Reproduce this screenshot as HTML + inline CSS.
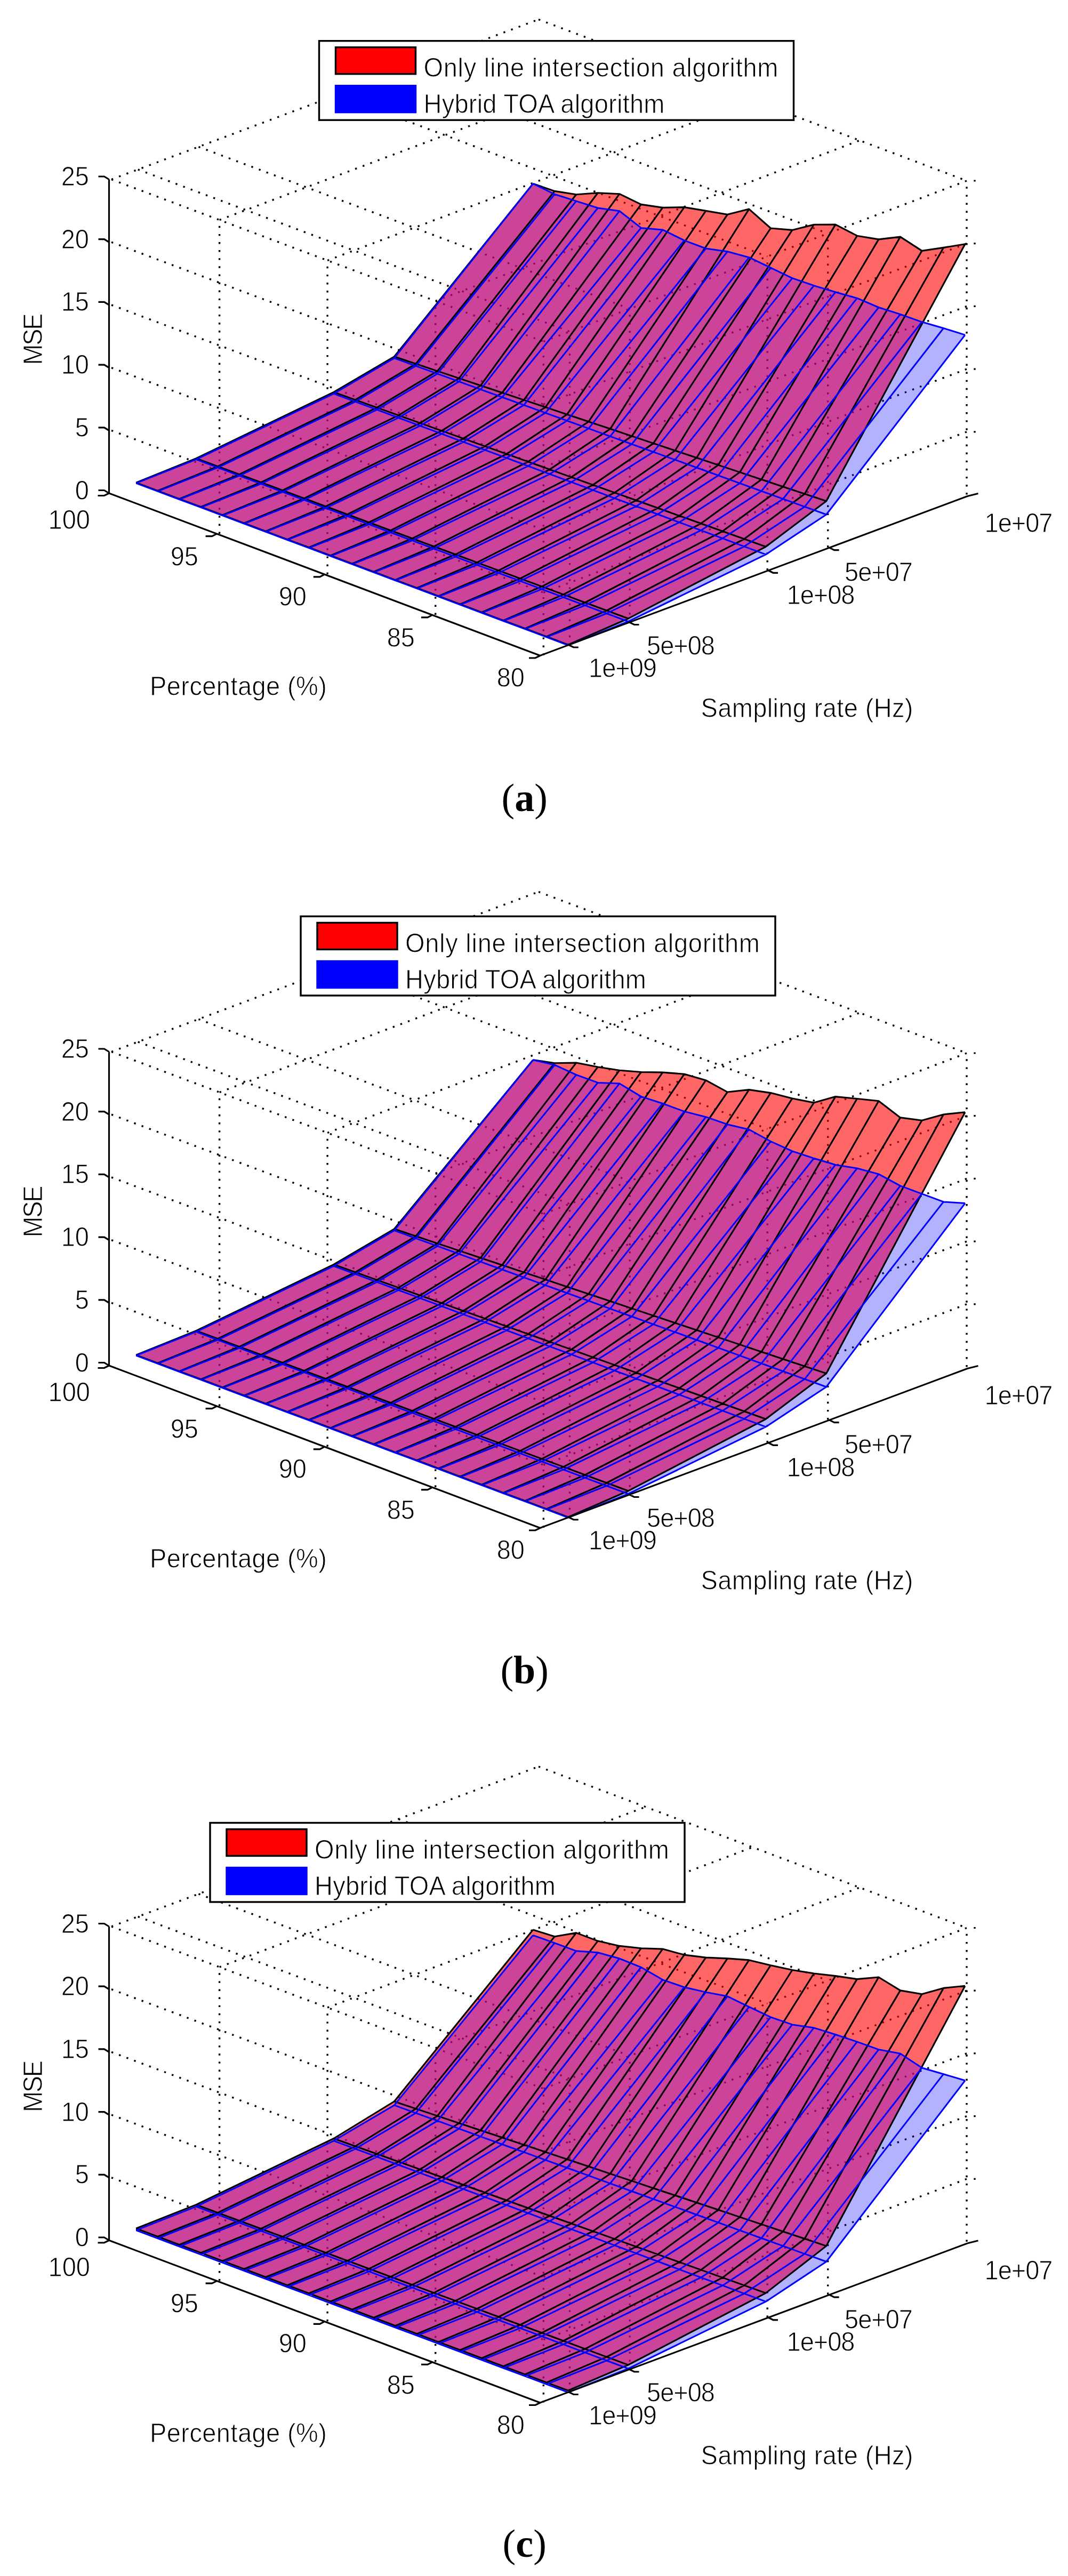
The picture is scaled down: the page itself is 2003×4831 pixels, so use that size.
<!DOCTYPE html>
<html lang="en"><head><meta charset="utf-8"><title>MSE versus percentage and sampling rate</title>
<style>
html,body{margin:0;padding:0;background:#fff}
svg{display:block}
.t text{font-family:"Liberation Sans",sans-serif;font-size:47px;fill:#000;stroke:#fff;stroke-width:0.9px}
.cap{font-family:"Liberation Serif","DejaVu Serif",serif;font-size:74px;fill:#000}
</style></head><body>
<svg width="2003" height="4831" viewBox="0 0 2003 4831">
<rect width="2003" height="4831" fill="#fff"/>
<g transform="translate(0,0)">
<g stroke="#000" stroke-width="3.4" stroke-dasharray="3.4 11.7" fill="none">
<path d="M209 336.5L1010 36.5M411.6 412.5L1210.8 112.1M614.1 488.5L1411.5 187.8M816.7 564.5L1612.2 263.4M1019.3 640.5L1813 339M258.7 317.9L1068.5 621.8M372.4 275.3L1181.2 579M632.7 177.8L1439.2 481M747.3 134.9L1552.7 437.9M1010 36.5L1813 339M209 807.3L1019.3 1111.3M209 689.6L1019.3 993.6M209 571.9L1019.3 875.9M209 454.2L1019.3 758.2M209 336.5L1019.3 640.5M411.6 1001L411.6 412.5M614.1 1077L614.1 488.5M816.7 1153L816.7 564.5M1019.3 1229L1019.3 640.5M1019.3 1111.3L1813 809.8M1019.3 993.6L1813 692.1M1019.3 875.9L1813 574.4M1019.3 758.2L1813 456.7M1019.3 640.5L1813 339M1068.5 1210.3L1068.5 621.8M1181.2 1167.5L1181.2 579M1439.2 1069.5L1439.2 481M1552.7 1026.4L1552.7 437.9M1813 927.5L1813 339"/>
</g>
<defs><clipPath id="cra"><polygon points="255.2,905.2 295.7,920.4 336.2,935.6 376.8,950.8 417.3,966 457.8,981.2 498.3,996.4 538.8,1011.6 579.3,1026.8 619.8,1042 660.4,1057.2 700.9,1072.4 741.4,1087.6 781.9,1102.8 822.4,1118 862.9,1133.2 903.4,1148.4 944,1163.6 984.5,1178.8 1025,1194 1065.5,1209.2 1178.2,1160 1436.2,1025.3 1549.7,939.8 1810,457.7 1769.5,464.4 1729,470.4 1688.5,444.1 1647.9,448.9 1607.4,442.2 1566.9,421.1 1526.4,421.2 1485.9,431.4 1445.4,428 1404.8,392.1 1364.3,402.3 1323.8,395.4 1283.3,388.6 1242.8,389.4 1202.3,383.4 1161.8,363.7 1121.2,361.7 1080.7,364.7 1040.2,358.4 999.7,344.4 739.4,668.8 625.9,735.4 367.9,859.6"/></clipPath>
<clipPath id="cna"><path clip-rule="evenodd" d="M0 0H2003V1640H0Z M255.2 905.2 295.7 920.4 336.2 935.6 376.8 950.8 417.3 966 457.8 981.2 498.3 996.4 538.8 1011.6 579.3 1026.8 619.8 1042 660.4 1057.2 700.9 1072.4 741.4 1087.6 781.9 1102.8 822.4 1118 862.9 1133.2 903.4 1148.4 944 1163.6 984.5 1178.8 1025 1194 1065.5 1209.2 1178.2 1160 1436.2 1025.3 1549.7 939.8 1810 457.7 1769.5 464.4 1729 470.4 1688.5 444.1 1647.9 448.9 1607.4 442.2 1566.9 421.1 1526.4 421.2 1485.9 431.4 1445.4 428 1404.8 392.1 1364.3 402.3 1323.8 395.4 1283.3 388.6 1242.8 389.4 1202.3 383.4 1161.8 363.7 1121.2 361.7 1080.7 364.7 1040.2 358.4 999.7 344.4 739.4 668.8 625.9 735.4 367.9 859.6 Z"/></clipPath></defs>
<polygon points="255.2,905.2 295.7,920.4 336.2,935.6 376.8,950.8 417.3,966 457.8,981.2 498.3,996.4 538.8,1011.6 579.3,1026.8 619.8,1042 660.4,1057.2 700.9,1072.4 741.4,1087.6 781.9,1102.8 822.4,1118 862.9,1133.2 903.4,1148.4 944,1163.6 984.5,1178.8 1025,1194 1065.5,1209.2 1178.2,1160 1436.2,1025.3 1549.7,939.8 1810,457.7 1769.5,464.4 1729,470.4 1688.5,444.1 1647.9,448.9 1607.4,442.2 1566.9,421.1 1526.4,421.2 1485.9,431.4 1445.4,428 1404.8,392.1 1364.3,402.3 1323.8,395.4 1283.3,388.6 1242.8,389.4 1202.3,383.4 1161.8,363.7 1121.2,361.7 1080.7,364.7 1040.2,358.4 999.7,344.4 739.4,668.8 625.9,735.4 367.9,859.6" fill="#f00" fill-opacity="0.6"/>
<polygon points="255.2,906.1 295.7,921.3 336.2,936.5 376.8,951.7 417.3,966.9 457.8,982.1 498.3,997.3 538.8,1012.5 579.3,1027.7 619.8,1042.9 660.4,1058.1 700.9,1073.3 741.4,1088.5 781.9,1103.7 822.4,1118.9 862.9,1134.1 903.4,1149.3 944,1164.5 984.5,1179.7 1025,1194.9 1065.5,1210.1 1178.2,1165.7 1436.2,1039.9 1549.7,965 1810,628.1 1769.5,615.5 1729,603.8 1688.5,589.4 1647.9,576.5 1607.4,559.2 1566.9,547.8 1526.4,535.6 1485.9,521.6 1445.4,502.2 1404.8,482.7 1364.3,471.8 1323.8,466 1283.3,450.8 1242.8,430.9 1202.3,427.4 1161.8,395.8 1121.2,390 1080.7,377.1 1040.2,364.3 999.7,344.4 739.4,671.6 625.9,738.3 367.9,861.7" fill="#8011e6" fill-opacity="0.4" clip-path="url(#cra)"/>
<polygon points="255.2,906.1 295.7,921.3 336.2,936.5 376.8,951.7 417.3,966.9 457.8,982.1 498.3,997.3 538.8,1012.5 579.3,1027.7 619.8,1042.9 660.4,1058.1 700.9,1073.3 741.4,1088.5 781.9,1103.7 822.4,1118.9 862.9,1134.1 903.4,1149.3 944,1164.5 984.5,1179.7 1025,1194.9 1065.5,1210.1 1178.2,1165.7 1436.2,1039.9 1549.7,965 1810,628.1 1769.5,615.5 1729,603.8 1688.5,589.4 1647.9,576.5 1607.4,559.2 1566.9,547.8 1526.4,535.6 1485.9,521.6 1445.4,502.2 1404.8,482.7 1364.3,471.8 1323.8,466 1283.3,450.8 1242.8,430.9 1202.3,427.4 1161.8,395.8 1121.2,390 1080.7,377.1 1040.2,364.3 999.7,344.4 739.4,671.6 625.9,738.3 367.9,861.7" fill="#00f" fill-opacity="0.3" clip-path="url(#cna)"/>
<path d="M255.2 905.2L367.9 859.6L625.9 735.4L739.4 668.8L999.7 344.4M295.7 920.4L408.4 874.6L666.4 749.9L779.9 682.3L1040.2 358.4M336.2 935.6L448.9 889.6L706.9 764.4L820.4 695.9L1080.7 364.7M376.8 950.8L489.5 904.6L747.4 778.9L860.9 709.4L1121.2 361.7M417.3 966L530 919.6L787.9 793.4L901.4 723L1161.8 363.7M457.8 981.2L570.5 934.7L828.4 807.9L941.9 736.5L1202.3 383.4M498.3 996.4L611 949.7L869 822.4L982.5 750.1L1242.8 389.4M538.8 1011.6L651.5 964.7L909.5 836.9L1023 763.6L1283.3 388.6M579.3 1026.8L692 979.7L950 851.4L1063.5 777.2L1323.8 395.4M619.8 1042L732.5 994.8L990.5 865.9L1104 790.7L1364.3 402.3M660.4 1057.2L773.1 1009.8L1031 880.4L1144.5 804.3L1404.8 392.1M700.9 1072.4L813.6 1024.8L1071.5 894.9L1185 817.9L1445.4 428M741.4 1087.6L854.1 1039.8L1112 909.4L1225.5 831.4L1485.9 431.4M781.9 1102.8L894.6 1054.9L1152.6 923.9L1266.1 845L1526.4 421.2M822.4 1118L935.1 1069.9L1193.1 938.3L1306.6 858.5L1566.9 421.1M862.9 1133.2L975.6 1084.9L1233.6 952.8L1347.1 872.1L1607.4 442.2M903.4 1148.4L1016.2 1099.9L1274.1 967.3L1387.6 885.6L1647.9 448.9M944 1163.6L1056.7 1114.9L1314.6 981.8L1428.1 899.2L1688.5 444.1M984.5 1178.8L1097.2 1130L1355.1 996.3L1468.6 912.7L1729 470.4M1025 1194L1137.7 1145L1395.7 1010.8L1509.2 926.3L1769.5 464.4M1065.5 1209.2L1178.2 1160L1436.2 1025.3L1549.7 939.8L1810 457.7M255.2 905.2L295.7 920.4L336.2 935.6L376.8 950.8L417.3 966L457.8 981.2L498.3 996.4L538.8 1011.6L579.3 1026.8L619.8 1042L660.4 1057.2L700.9 1072.4L741.4 1087.6L781.9 1102.8L822.4 1118L862.9 1133.2L903.4 1148.4L944 1163.6L984.5 1178.8L1025 1194L1065.5 1209.2M367.9 859.6L408.4 874.6L448.9 889.6L489.5 904.6L530 919.6L570.5 934.7L611 949.7L651.5 964.7L692 979.7L732.5 994.8L773.1 1009.8L813.6 1024.8L854.1 1039.8L894.6 1054.9L935.1 1069.9L975.6 1084.9L1016.2 1099.9L1056.7 1114.9L1097.2 1130L1137.7 1145L1178.2 1160M625.9 735.4L666.4 749.9L706.9 764.4L747.4 778.9L787.9 793.4L828.4 807.9L869 822.4L909.5 836.9L950 851.4L990.5 865.9L1031 880.4L1071.5 894.9L1112 909.4L1152.6 923.9L1193.1 938.3L1233.6 952.8L1274.1 967.3L1314.6 981.8L1355.1 996.3L1395.7 1010.8L1436.2 1025.3M739.4 668.8L779.9 682.3L820.4 695.9L860.9 709.4L901.4 723L941.9 736.5L982.5 750.1L1023 763.6L1063.5 777.2L1104 790.7L1144.5 804.3L1185 817.9L1225.5 831.4L1266.1 845L1306.6 858.5L1347.1 872.1L1387.6 885.6L1428.1 899.2L1468.6 912.7L1509.2 926.3L1549.7 939.8M999.7 344.4L1040.2 358.4L1080.7 364.7L1121.2 361.7L1161.8 363.7L1202.3 383.4L1242.8 389.4L1283.3 388.6L1323.8 395.4L1364.3 402.3L1404.8 392.1L1445.4 428L1485.9 431.4L1526.4 421.2L1566.9 421.1L1607.4 442.2L1647.9 448.9L1688.5 444.1L1729 470.4L1769.5 464.4L1810 457.7" fill="none" stroke="#000" stroke-width="3.1" stroke-linejoin="round"/>
<path d="M255.2 906.1L367.9 861.7L625.9 738.3L739.4 671.6L999.7 344.4M295.7 921.3L408.4 876.9L666.4 753.3L779.9 686.3L1040.2 364.3M336.2 936.5L448.9 892.1L706.9 768.4L820.4 700.9L1080.7 377.1M376.8 951.7L489.5 907.3L747.4 783.5L860.9 715.6L1121.2 390M417.3 966.9L530 922.5L787.9 798.6L901.4 730.3L1161.8 395.8M457.8 982.1L570.5 937.7L828.4 813.7L941.9 745L1202.3 427.4M498.3 997.3L611 952.9L869 828.8L982.5 759.6L1242.8 430.9M538.8 1012.5L651.5 968.1L909.5 843.8L1023 774.3L1283.3 450.8M579.3 1027.7L692 983.3L950 858.9L1063.5 789L1323.8 466M619.8 1042.9L732.5 998.5L990.5 874L1104 803.6L1364.3 471.8M660.4 1058.1L773.1 1013.7L1031 889.1L1144.5 818.3L1404.8 482.7M700.9 1073.3L813.6 1028.9L1071.5 904.2L1185 833L1445.4 502.2M741.4 1088.5L854.1 1044.1L1112 919.2L1225.5 847.6L1485.9 521.6M781.9 1103.7L894.6 1059.3L1152.6 934.3L1266.1 862.3L1526.4 535.6M822.4 1118.9L935.1 1074.5L1193.1 949.4L1306.6 877L1566.9 547.8M862.9 1134.1L975.6 1089.7L1233.6 964.5L1347.1 891.7L1607.4 559.2M903.4 1149.3L1016.2 1104.9L1274.1 979.6L1387.6 906.3L1647.9 576.5M944 1164.5L1056.7 1120.1L1314.6 994.7L1428.1 921L1688.5 589.4M984.5 1179.7L1097.2 1135.3L1355.1 1009.7L1468.6 935.7L1729 603.8M1025 1194.9L1137.7 1150.5L1395.7 1024.8L1509.2 950.3L1769.5 615.5M1065.5 1210.1L1178.2 1165.7L1436.2 1039.9L1549.7 965L1810 628.1M255.2 906.1L295.7 921.3L336.2 936.5L376.8 951.7L417.3 966.9L457.8 982.1L498.3 997.3L538.8 1012.5L579.3 1027.7L619.8 1042.9L660.4 1058.1L700.9 1073.3L741.4 1088.5L781.9 1103.7L822.4 1118.9L862.9 1134.1L903.4 1149.3L944 1164.5L984.5 1179.7L1025 1194.9L1065.5 1210.1M367.9 861.7L408.4 876.9L448.9 892.1L489.5 907.3L530 922.5L570.5 937.7L611 952.9L651.5 968.1L692 983.3L732.5 998.5L773.1 1013.7L813.6 1028.9L854.1 1044.1L894.6 1059.3L935.1 1074.5L975.6 1089.7L1016.2 1104.9L1056.7 1120.1L1097.2 1135.3L1137.7 1150.5L1178.2 1165.7M625.9 738.3L666.4 753.3L706.9 768.4L747.4 783.5L787.9 798.6L828.4 813.7L869 828.8L909.5 843.8L950 858.9L990.5 874L1031 889.1L1071.5 904.2L1112 919.2L1152.6 934.3L1193.1 949.4L1233.6 964.5L1274.1 979.6L1314.6 994.7L1355.1 1009.7L1395.7 1024.8L1436.2 1039.9M739.4 671.6L779.9 686.3L820.4 700.9L860.9 715.6L901.4 730.3L941.9 745L982.5 759.6L1023 774.3L1063.5 789L1104 803.6L1144.5 818.3L1185 833L1225.5 847.6L1266.1 862.3L1306.6 877L1347.1 891.7L1387.6 906.3L1428.1 921L1468.6 935.7L1509.2 950.3L1549.7 965M999.7 344.4L1040.2 364.3L1080.7 377.1L1121.2 390L1161.8 395.8L1202.3 427.4L1242.8 430.9L1283.3 450.8L1323.8 466L1364.3 471.8L1404.8 482.7L1445.4 502.2L1485.9 521.6L1526.4 535.6L1566.9 547.8L1607.4 559.2L1647.9 576.5L1688.5 589.4L1729 603.8L1769.5 615.5L1810 628.1" fill="none" stroke="#00f" stroke-width="3" stroke-linejoin="round"/>
<path d="M204.5 926.6L204.5 336.5M204.5 925L1013 1229.5L1814.5 930.5M204.5 925L195.5 919.5H184.5M204.5 807.3L195.5 801.8H184.5M1826.3 809.8h3.4M204.5 689.6L195.5 684.1H184.5M1826.3 692.1h3.4M204.5 571.9L195.5 566.4H184.5M1826.3 574.4h3.4M204.5 454.2L195.5 448.7H184.5M1826.3 456.7h3.4M204.5 336.5L195.5 331H184.5M1826.3 339h3.4M204.5 925L195.5 929.5H183.5M406.6 1001.1L397.6 1005.6H385.6M608.8 1077.2L599.8 1081.8H587.8M810.9 1153.4L801.9 1157.9H789.9M1013 1229.5L1004 1234H992M1066.7 1209.5L1075.7 1214H1084.7M1180.5 1167L1189.5 1171.5H1198.5M1441 1069.8L1450 1074.3H1459M1555.6 1027.1L1564.6 1031.6H1573.6M1814.5 930.5L1834.5 925.5" fill="none" stroke="#000" stroke-width="3.2"/>
<g class="t">
<text transform="translate(167,936.5) scale(1,1.08)" text-anchor="end">0</text>
<text transform="translate(167,818.8) scale(1,1.08)" text-anchor="end">5</text>
<text transform="translate(167,701.1) scale(1,1.08)" text-anchor="end">10</text>
<text transform="translate(167,583.4) scale(1,1.08)" text-anchor="end">15</text>
<text transform="translate(167,465.7) scale(1,1.08)" text-anchor="end">20</text>
<text transform="translate(167,348) scale(1,1.08)" text-anchor="end">25</text>
<text transform="translate(169,992) scale(1,1.08)" text-anchor="end">100</text>
<text transform="translate(372,1060.5) scale(1,1.08)" text-anchor="end">95</text>
<text transform="translate(575,1135.5) scale(1,1.08)" text-anchor="end">90</text>
<text transform="translate(778,1213) scale(1,1.08)" text-anchor="end">85</text>
<text transform="translate(984,1288) scale(1,1.08)" text-anchor="end">80</text>
<text transform="translate(1104,1270) scale(1,1.08)" textLength="128" lengthAdjust="spacing">1e+09</text>
<text transform="translate(1213,1227.5) scale(1,1.08)" textLength="128" lengthAdjust="spacing">5e+08</text>
<text transform="translate(1475.5,1132.5) scale(1,1.08)" textLength="128" lengthAdjust="spacing">1e+08</text>
<text transform="translate(1584,1090) scale(1,1.08)" textLength="128" lengthAdjust="spacing">5e+07</text>
<text transform="translate(1846.5,998) scale(1,1.08)" textLength="128" lengthAdjust="spacing">1e+07</text>
<text transform="translate(281,1303.5) scale(1,1.08)" textLength="332" lengthAdjust="spacing">Percentage (%)</text>
<text transform="translate(1314.5,1345) scale(1,1.08)" textLength="398" lengthAdjust="spacing">Sampling rate (Hz)</text>
<text transform="translate(78.5,636) rotate(-90) scale(1,1.08)" text-anchor="middle" textLength="97" lengthAdjust="spacing">MSE</text>
</g>
<text class="cap" x="983.7" y="1521" text-anchor="middle">(<tspan font-weight="bold">a</tspan>)</text>
<rect x="598.5" y="76.7" width="890" height="148.5" fill="#fff" stroke="#000" stroke-width="3.4"/>
<rect x="629.5" y="88.7" width="150" height="50" fill="#f00" stroke="#000" stroke-width="3.4"/>
<rect x="629.5" y="160.7" width="150" height="50" fill="#00f" stroke="#00f" stroke-width="3.4"/>
<g class="t">
<text transform="translate(794.5,143.7) scale(1,1.08)" textLength="665" lengthAdjust="spacing">Only line intersection algorithm</text>
<text transform="translate(794.5,211.7) scale(1,1.08)" textLength="452" lengthAdjust="spacing">Hybrid TOA algorithm</text>
</g>
</g>
<g transform="translate(0,1636)">
<g stroke="#000" stroke-width="3.4" stroke-dasharray="3.4 11.7" fill="none">
<path d="M209 336.5L1010 36.5M411.6 412.5L1210.8 112.1M614.1 488.5L1411.5 187.8M816.7 564.5L1612.2 263.4M1019.3 640.5L1813 339M258.7 317.9L1068.5 621.8M372.4 275.3L1181.2 579M632.7 177.8L1439.2 481M747.3 134.9L1552.7 437.9M1010 36.5L1813 339M209 807.3L1019.3 1111.3M209 689.6L1019.3 993.6M209 571.9L1019.3 875.9M209 454.2L1019.3 758.2M209 336.5L1019.3 640.5M411.6 1001L411.6 412.5M614.1 1077L614.1 488.5M816.7 1153L816.7 564.5M1019.3 1229L1019.3 640.5M1019.3 1111.3L1813 809.8M1019.3 993.6L1813 692.1M1019.3 875.9L1813 574.4M1019.3 758.2L1813 456.7M1019.3 640.5L1813 339M1068.5 1210.3L1068.5 621.8M1181.2 1167.5L1181.2 579M1439.2 1069.5L1439.2 481M1552.7 1026.4L1552.7 437.9M1813 927.5L1813 339"/>
</g>
<defs><clipPath id="crb"><polygon points="255.2,905.2 295.7,920.4 336.2,935.6 376.8,950.8 417.3,966 457.8,981.2 498.3,996.4 538.8,1011.6 579.3,1026.8 619.8,1042 660.4,1057.2 700.9,1072.4 741.4,1087.6 781.9,1102.8 822.4,1118 862.9,1133.2 903.4,1148.4 944,1163.6 984.5,1178.8 1025,1194 1065.5,1209.2 1178.2,1160 1436.2,1025.3 1549.7,939.8 1810,449.7 1769.5,454 1729,465.2 1688.5,459.9 1647.9,428.7 1607.4,424.5 1566.9,420.6 1526.4,432 1485.9,423.9 1445.4,413.6 1404.8,407.6 1364.3,412 1323.8,389.9 1283.3,378.3 1242.8,375.1 1202.3,374.5 1161.8,371.3 1121.2,365 1080.7,357.1 1040.2,357.7 999.7,351.7 739.4,668.8 625.9,735.4 367.9,859.6"/></clipPath>
<clipPath id="cnb"><path clip-rule="evenodd" d="M0 0H2003V1640H0Z M255.2 905.2 295.7 920.4 336.2 935.6 376.8 950.8 417.3 966 457.8 981.2 498.3 996.4 538.8 1011.6 579.3 1026.8 619.8 1042 660.4 1057.2 700.9 1072.4 741.4 1087.6 781.9 1102.8 822.4 1118 862.9 1133.2 903.4 1148.4 944 1163.6 984.5 1178.8 1025 1194 1065.5 1209.2 1178.2 1160 1436.2 1025.3 1549.7 939.8 1810 449.7 1769.5 454 1729 465.2 1688.5 459.9 1647.9 428.7 1607.4 424.5 1566.9 420.6 1526.4 432 1485.9 423.9 1445.4 413.6 1404.8 407.6 1364.3 412 1323.8 389.9 1283.3 378.3 1242.8 375.1 1202.3 374.5 1161.8 371.3 1121.2 365 1080.7 357.1 1040.2 357.7 999.7 351.7 739.4 668.8 625.9 735.4 367.9 859.6 Z"/></clipPath></defs>
<polygon points="255.2,905.2 295.7,920.4 336.2,935.6 376.8,950.8 417.3,966 457.8,981.2 498.3,996.4 538.8,1011.6 579.3,1026.8 619.8,1042 660.4,1057.2 700.9,1072.4 741.4,1087.6 781.9,1102.8 822.4,1118 862.9,1133.2 903.4,1148.4 944,1163.6 984.5,1178.8 1025,1194 1065.5,1209.2 1178.2,1160 1436.2,1025.3 1549.7,939.8 1810,449.7 1769.5,454 1729,465.2 1688.5,459.9 1647.9,428.7 1607.4,424.5 1566.9,420.6 1526.4,432 1485.9,423.9 1445.4,413.6 1404.8,407.6 1364.3,412 1323.8,389.9 1283.3,378.3 1242.8,375.1 1202.3,374.5 1161.8,371.3 1121.2,365 1080.7,357.1 1040.2,357.7 999.7,351.7 739.4,668.8 625.9,735.4 367.9,859.6" fill="#f00" fill-opacity="0.6"/>
<polygon points="255.2,906.1 295.7,921.3 336.2,936.5 376.8,951.7 417.3,966.9 457.8,982.1 498.3,997.3 538.8,1012.5 579.3,1027.7 619.8,1042.9 660.4,1058.1 700.9,1073.3 741.4,1088.5 781.9,1103.7 822.4,1118.9 862.9,1134.1 903.4,1149.3 944,1164.5 984.5,1179.7 1025,1194.9 1065.5,1210.1 1178.2,1165.7 1436.2,1039.9 1549.7,965 1810,620.6 1769.5,617.9 1729,602.9 1688.5,587.9 1647.9,565.9 1607.4,555 1566.9,548.5 1526.4,536.3 1485.9,522.8 1445.4,504.5 1404.8,482.2 1364.3,472.7 1323.8,458.7 1283.3,448.4 1242.8,433.5 1202.3,420.4 1161.8,396 1121.2,394.4 1080.7,379.7 1040.2,361.2 999.7,351.7 739.4,671.6 625.9,738.3 367.9,861.7" fill="#8011e6" fill-opacity="0.4" clip-path="url(#crb)"/>
<polygon points="255.2,906.1 295.7,921.3 336.2,936.5 376.8,951.7 417.3,966.9 457.8,982.1 498.3,997.3 538.8,1012.5 579.3,1027.7 619.8,1042.9 660.4,1058.1 700.9,1073.3 741.4,1088.5 781.9,1103.7 822.4,1118.9 862.9,1134.1 903.4,1149.3 944,1164.5 984.5,1179.7 1025,1194.9 1065.5,1210.1 1178.2,1165.7 1436.2,1039.9 1549.7,965 1810,620.6 1769.5,617.9 1729,602.9 1688.5,587.9 1647.9,565.9 1607.4,555 1566.9,548.5 1526.4,536.3 1485.9,522.8 1445.4,504.5 1404.8,482.2 1364.3,472.7 1323.8,458.7 1283.3,448.4 1242.8,433.5 1202.3,420.4 1161.8,396 1121.2,394.4 1080.7,379.7 1040.2,361.2 999.7,351.7 739.4,671.6 625.9,738.3 367.9,861.7" fill="#00f" fill-opacity="0.3" clip-path="url(#cnb)"/>
<path d="M255.2 905.2L367.9 859.6L625.9 735.4L739.4 668.8L999.7 351.7M295.7 920.4L408.4 874.6L666.4 749.9L779.9 682.3L1040.2 357.7M336.2 935.6L448.9 889.6L706.9 764.4L820.4 695.9L1080.7 357.1M376.8 950.8L489.5 904.6L747.4 778.9L860.9 709.4L1121.2 365M417.3 966L530 919.6L787.9 793.4L901.4 723L1161.8 371.3M457.8 981.2L570.5 934.7L828.4 807.9L941.9 736.5L1202.3 374.5M498.3 996.4L611 949.7L869 822.4L982.5 750.1L1242.8 375.1M538.8 1011.6L651.5 964.7L909.5 836.9L1023 763.6L1283.3 378.3M579.3 1026.8L692 979.7L950 851.4L1063.5 777.2L1323.8 389.9M619.8 1042L732.5 994.8L990.5 865.9L1104 790.7L1364.3 412M660.4 1057.2L773.1 1009.8L1031 880.4L1144.5 804.3L1404.8 407.6M700.9 1072.4L813.6 1024.8L1071.5 894.9L1185 817.9L1445.4 413.6M741.4 1087.6L854.1 1039.8L1112 909.4L1225.5 831.4L1485.9 423.9M781.9 1102.8L894.6 1054.9L1152.6 923.9L1266.1 845L1526.4 432M822.4 1118L935.1 1069.9L1193.1 938.3L1306.6 858.5L1566.9 420.6M862.9 1133.2L975.6 1084.9L1233.6 952.8L1347.1 872.1L1607.4 424.5M903.4 1148.4L1016.2 1099.9L1274.1 967.3L1387.6 885.6L1647.9 428.7M944 1163.6L1056.7 1114.9L1314.6 981.8L1428.1 899.2L1688.5 459.9M984.5 1178.8L1097.2 1130L1355.1 996.3L1468.6 912.7L1729 465.2M1025 1194L1137.7 1145L1395.7 1010.8L1509.2 926.3L1769.5 454M1065.5 1209.2L1178.2 1160L1436.2 1025.3L1549.7 939.8L1810 449.7M255.2 905.2L295.7 920.4L336.2 935.6L376.8 950.8L417.3 966L457.8 981.2L498.3 996.4L538.8 1011.6L579.3 1026.8L619.8 1042L660.4 1057.2L700.9 1072.4L741.4 1087.6L781.9 1102.8L822.4 1118L862.9 1133.2L903.4 1148.4L944 1163.6L984.5 1178.8L1025 1194L1065.5 1209.2M367.9 859.6L408.4 874.6L448.9 889.6L489.5 904.6L530 919.6L570.5 934.7L611 949.7L651.5 964.7L692 979.7L732.5 994.8L773.1 1009.8L813.6 1024.8L854.1 1039.8L894.6 1054.9L935.1 1069.9L975.6 1084.9L1016.2 1099.9L1056.7 1114.9L1097.2 1130L1137.7 1145L1178.2 1160M625.9 735.4L666.4 749.9L706.9 764.4L747.4 778.9L787.9 793.4L828.4 807.9L869 822.4L909.5 836.9L950 851.4L990.5 865.9L1031 880.4L1071.5 894.9L1112 909.4L1152.6 923.9L1193.1 938.3L1233.6 952.8L1274.1 967.3L1314.6 981.8L1355.1 996.3L1395.7 1010.8L1436.2 1025.3M739.4 668.8L779.9 682.3L820.4 695.9L860.9 709.4L901.4 723L941.9 736.5L982.5 750.1L1023 763.6L1063.5 777.2L1104 790.7L1144.5 804.3L1185 817.9L1225.5 831.4L1266.1 845L1306.6 858.5L1347.1 872.1L1387.6 885.6L1428.1 899.2L1468.6 912.7L1509.2 926.3L1549.7 939.8M999.7 351.7L1040.2 357.7L1080.7 357.1L1121.2 365L1161.8 371.3L1202.3 374.5L1242.8 375.1L1283.3 378.3L1323.8 389.9L1364.3 412L1404.8 407.6L1445.4 413.6L1485.9 423.9L1526.4 432L1566.9 420.6L1607.4 424.5L1647.9 428.7L1688.5 459.9L1729 465.2L1769.5 454L1810 449.7" fill="none" stroke="#000" stroke-width="3.1" stroke-linejoin="round"/>
<path d="M255.2 906.1L367.9 861.7L625.9 738.3L739.4 671.6L999.7 351.7M295.7 921.3L408.4 876.9L666.4 753.3L779.9 686.3L1040.2 361.2M336.2 936.5L448.9 892.1L706.9 768.4L820.4 700.9L1080.7 379.7M376.8 951.7L489.5 907.3L747.4 783.5L860.9 715.6L1121.2 394.4M417.3 966.9L530 922.5L787.9 798.6L901.4 730.3L1161.8 396M457.8 982.1L570.5 937.7L828.4 813.7L941.9 745L1202.3 420.4M498.3 997.3L611 952.9L869 828.8L982.5 759.6L1242.8 433.5M538.8 1012.5L651.5 968.1L909.5 843.8L1023 774.3L1283.3 448.4M579.3 1027.7L692 983.3L950 858.9L1063.5 789L1323.8 458.7M619.8 1042.9L732.5 998.5L990.5 874L1104 803.6L1364.3 472.7M660.4 1058.1L773.1 1013.7L1031 889.1L1144.5 818.3L1404.8 482.2M700.9 1073.3L813.6 1028.9L1071.5 904.2L1185 833L1445.4 504.5M741.4 1088.5L854.1 1044.1L1112 919.2L1225.5 847.6L1485.9 522.8M781.9 1103.7L894.6 1059.3L1152.6 934.3L1266.1 862.3L1526.4 536.3M822.4 1118.9L935.1 1074.5L1193.1 949.4L1306.6 877L1566.9 548.5M862.9 1134.1L975.6 1089.7L1233.6 964.5L1347.1 891.7L1607.4 555M903.4 1149.3L1016.2 1104.9L1274.1 979.6L1387.6 906.3L1647.9 565.9M944 1164.5L1056.7 1120.1L1314.6 994.7L1428.1 921L1688.5 587.9M984.5 1179.7L1097.2 1135.3L1355.1 1009.7L1468.6 935.7L1729 602.9M1025 1194.9L1137.7 1150.5L1395.7 1024.8L1509.2 950.3L1769.5 617.9M1065.5 1210.1L1178.2 1165.7L1436.2 1039.9L1549.7 965L1810 620.6M255.2 906.1L295.7 921.3L336.2 936.5L376.8 951.7L417.3 966.9L457.8 982.1L498.3 997.3L538.8 1012.5L579.3 1027.7L619.8 1042.9L660.4 1058.1L700.9 1073.3L741.4 1088.5L781.9 1103.7L822.4 1118.9L862.9 1134.1L903.4 1149.3L944 1164.5L984.5 1179.7L1025 1194.9L1065.5 1210.1M367.9 861.7L408.4 876.9L448.9 892.1L489.5 907.3L530 922.5L570.5 937.7L611 952.9L651.5 968.1L692 983.3L732.5 998.5L773.1 1013.7L813.6 1028.9L854.1 1044.1L894.6 1059.3L935.1 1074.5L975.6 1089.7L1016.2 1104.9L1056.7 1120.1L1097.2 1135.3L1137.7 1150.5L1178.2 1165.7M625.9 738.3L666.4 753.3L706.9 768.4L747.4 783.5L787.9 798.6L828.4 813.7L869 828.8L909.5 843.8L950 858.9L990.5 874L1031 889.1L1071.5 904.2L1112 919.2L1152.6 934.3L1193.1 949.4L1233.6 964.5L1274.1 979.6L1314.6 994.7L1355.1 1009.7L1395.7 1024.8L1436.2 1039.9M739.4 671.6L779.9 686.3L820.4 700.9L860.9 715.6L901.4 730.3L941.9 745L982.5 759.6L1023 774.3L1063.5 789L1104 803.6L1144.5 818.3L1185 833L1225.5 847.6L1266.1 862.3L1306.6 877L1347.1 891.7L1387.6 906.3L1428.1 921L1468.6 935.7L1509.2 950.3L1549.7 965M999.7 351.7L1040.2 361.2L1080.7 379.7L1121.2 394.4L1161.8 396L1202.3 420.4L1242.8 433.5L1283.3 448.4L1323.8 458.7L1364.3 472.7L1404.8 482.2L1445.4 504.5L1485.9 522.8L1526.4 536.3L1566.9 548.5L1607.4 555L1647.9 565.9L1688.5 587.9L1729 602.9L1769.5 617.9L1810 620.6" fill="none" stroke="#00f" stroke-width="3" stroke-linejoin="round"/>
<path d="M204.5 926.6L204.5 336.5M204.5 925L1013 1229.5L1814.5 930.5M204.5 925L195.5 919.5H184.5M204.5 807.3L195.5 801.8H184.5M1826.3 809.8h3.4M204.5 689.6L195.5 684.1H184.5M1826.3 692.1h3.4M204.5 571.9L195.5 566.4H184.5M1826.3 574.4h3.4M204.5 454.2L195.5 448.7H184.5M1826.3 456.7h3.4M204.5 336.5L195.5 331H184.5M1826.3 339h3.4M204.5 925L195.5 929.5H183.5M406.6 1001.1L397.6 1005.6H385.6M608.8 1077.2L599.8 1081.8H587.8M810.9 1153.4L801.9 1157.9H789.9M1013 1229.5L1004 1234H992M1066.7 1209.5L1075.7 1214H1084.7M1180.5 1167L1189.5 1171.5H1198.5M1441 1069.8L1450 1074.3H1459M1555.6 1027.1L1564.6 1031.6H1573.6M1814.5 930.5L1834.5 925.5" fill="none" stroke="#000" stroke-width="3.2"/>
<g class="t">
<text transform="translate(167,936.5) scale(1,1.08)" text-anchor="end">0</text>
<text transform="translate(167,818.8) scale(1,1.08)" text-anchor="end">5</text>
<text transform="translate(167,701.1) scale(1,1.08)" text-anchor="end">10</text>
<text transform="translate(167,583.4) scale(1,1.08)" text-anchor="end">15</text>
<text transform="translate(167,465.7) scale(1,1.08)" text-anchor="end">20</text>
<text transform="translate(167,348) scale(1,1.08)" text-anchor="end">25</text>
<text transform="translate(169,992) scale(1,1.08)" text-anchor="end">100</text>
<text transform="translate(372,1060.5) scale(1,1.08)" text-anchor="end">95</text>
<text transform="translate(575,1135.5) scale(1,1.08)" text-anchor="end">90</text>
<text transform="translate(778,1213) scale(1,1.08)" text-anchor="end">85</text>
<text transform="translate(984,1288) scale(1,1.08)" text-anchor="end">80</text>
<text transform="translate(1104,1270) scale(1,1.08)" textLength="128" lengthAdjust="spacing">1e+09</text>
<text transform="translate(1213,1227.5) scale(1,1.08)" textLength="128" lengthAdjust="spacing">5e+08</text>
<text transform="translate(1475.5,1132.5) scale(1,1.08)" textLength="128" lengthAdjust="spacing">1e+08</text>
<text transform="translate(1584,1090) scale(1,1.08)" textLength="128" lengthAdjust="spacing">5e+07</text>
<text transform="translate(1846.5,998) scale(1,1.08)" textLength="128" lengthAdjust="spacing">1e+07</text>
<text transform="translate(281,1303.5) scale(1,1.08)" textLength="332" lengthAdjust="spacing">Percentage (%)</text>
<text transform="translate(1314.5,1345) scale(1,1.08)" textLength="398" lengthAdjust="spacing">Sampling rate (Hz)</text>
<text transform="translate(78.5,636) rotate(-90) scale(1,1.08)" text-anchor="middle" textLength="97" lengthAdjust="spacing">MSE</text>
</g>
<text class="cap" x="983.7" y="1521" text-anchor="middle">(<tspan font-weight="bold">b</tspan>)</text>
<rect x="564" y="82.5" width="890" height="148.5" fill="#fff" stroke="#000" stroke-width="3.4"/>
<rect x="595" y="94.5" width="150" height="50" fill="#f00" stroke="#000" stroke-width="3.4"/>
<rect x="595" y="166.5" width="150" height="50" fill="#00f" stroke="#00f" stroke-width="3.4"/>
<g class="t">
<text transform="translate(760,149.5) scale(1,1.08)" textLength="665" lengthAdjust="spacing">Only line intersection algorithm</text>
<text transform="translate(760,217.5) scale(1,1.08)" textLength="452" lengthAdjust="spacing">Hybrid TOA algorithm</text>
</g>
</g>
<g transform="translate(0,3276.5)">
<g stroke="#000" stroke-width="3.4" stroke-dasharray="3.4 11.7" fill="none">
<path d="M209 336.5L1010 36.5M411.6 412.5L1210.8 112.1M614.1 488.5L1411.5 187.8M816.7 564.5L1612.2 263.4M1019.3 640.5L1813 339M258.7 317.9L1068.5 621.8M372.4 275.3L1181.2 579M632.7 177.8L1439.2 481M747.3 134.9L1552.7 437.9M1010 36.5L1813 339M209 807.3L1019.3 1111.3M209 689.6L1019.3 993.6M209 571.9L1019.3 875.9M209 454.2L1019.3 758.2M209 336.5L1019.3 640.5M411.6 1001L411.6 412.5M614.1 1077L614.1 488.5M816.7 1153L816.7 564.5M1019.3 1229L1019.3 640.5M1019.3 1111.3L1813 809.8M1019.3 993.6L1813 692.1M1019.3 875.9L1813 574.4M1019.3 758.2L1813 456.7M1019.3 640.5L1813 339M1068.5 1210.3L1068.5 621.8M1181.2 1167.5L1181.2 579M1439.2 1069.5L1439.2 481M1552.7 1026.4L1552.7 437.9M1813 927.5L1813 339"/>
</g>
<defs><clipPath id="crc"><polygon points="255.2,902.8 295.7,918 336.2,933.2 376.8,948.4 417.3,963.6 457.8,978.8 498.3,994 538.8,1009.2 579.3,1024.4 619.8,1039.6 660.4,1054.8 700.9,1070 741.4,1085.2 781.9,1100.4 822.4,1115.6 862.9,1130.8 903.4,1146 944,1161.2 984.5,1176.4 1025,1191.6 1065.5,1206.8 1178.2,1158.6 1436.2,1023.9 1549.7,935.6 1810,447.8 1769.5,451.9 1729,463.3 1688.5,456.4 1647.9,431.5 1607.4,435.1 1566.9,429.1 1526.4,424.5 1485.9,418 1445.4,409.2 1404.8,399.4 1364.3,396.4 1323.8,394.6 1283.3,389.6 1242.8,378.6 1202.3,377.3 1161.8,372.9 1121.2,363.6 1080.7,348.4 1040.2,355.3 999.7,342.5 739.4,664.5 625.9,734 367.9,858.1"/></clipPath>
<clipPath id="cnc"><path clip-rule="evenodd" d="M0 0H2003V1640H0Z M255.2 902.8 295.7 918 336.2 933.2 376.8 948.4 417.3 963.6 457.8 978.8 498.3 994 538.8 1009.2 579.3 1024.4 619.8 1039.6 660.4 1054.8 700.9 1070 741.4 1085.2 781.9 1100.4 822.4 1115.6 862.9 1130.8 903.4 1146 944 1161.2 984.5 1176.4 1025 1191.6 1065.5 1206.8 1178.2 1158.6 1436.2 1023.9 1549.7 935.6 1810 447.8 1769.5 451.9 1729 463.3 1688.5 456.4 1647.9 431.5 1607.4 435.1 1566.9 429.1 1526.4 424.5 1485.9 418 1445.4 409.2 1404.8 399.4 1364.3 396.4 1323.8 394.6 1283.3 389.6 1242.8 378.6 1202.3 377.3 1161.8 372.9 1121.2 363.6 1080.7 348.4 1040.2 355.3 999.7 342.5 739.4 664.5 625.9 734 367.9 858.1 Z"/></clipPath></defs>
<polygon points="255.2,902.8 295.7,918 336.2,933.2 376.8,948.4 417.3,963.6 457.8,978.8 498.3,994 538.8,1009.2 579.3,1024.4 619.8,1039.6 660.4,1054.8 700.9,1070 741.4,1085.2 781.9,1100.4 822.4,1115.6 862.9,1130.8 903.4,1146 944,1161.2 984.5,1176.4 1025,1191.6 1065.5,1206.8 1178.2,1158.6 1436.2,1023.9 1549.7,935.6 1810,447.8 1769.5,451.9 1729,463.3 1688.5,456.4 1647.9,431.5 1607.4,435.1 1566.9,429.1 1526.4,424.5 1485.9,418 1445.4,409.2 1404.8,399.4 1364.3,396.4 1323.8,394.6 1283.3,389.6 1242.8,378.6 1202.3,377.3 1161.8,372.9 1121.2,363.6 1080.7,348.4 1040.2,355.3 999.7,342.5 739.4,664.5 625.9,734 367.9,858.1" fill="#f00" fill-opacity="0.6"/>
<polygon points="255.2,906.1 295.7,921.3 336.2,936.5 376.8,951.7 417.3,966.9 457.8,982.1 498.3,997.3 538.8,1012.5 579.3,1027.7 619.8,1042.9 660.4,1058.1 700.9,1073.3 741.4,1088.5 781.9,1103.7 822.4,1118.9 862.9,1134.1 903.4,1149.3 944,1164.5 984.5,1179.7 1025,1194.9 1065.5,1210.1 1178.2,1165.7 1436.2,1039.9 1549.7,965 1810,625.3 1769.5,613.2 1729,601.5 1688.5,574.8 1647.9,567.1 1607.4,552.6 1566.9,539 1526.4,526.4 1485.9,520.4 1445.4,506.4 1404.8,487.2 1364.3,467.3 1323.8,459.6 1283.3,450.3 1242.8,436.3 1202.3,412.8 1161.8,396.5 1121.2,385.3 1080.7,382.3 1040.2,367.3 999.7,352.8 739.4,671.6 625.9,738.3 367.9,861.7" fill="#8011e6" fill-opacity="0.4" clip-path="url(#crc)"/>
<polygon points="255.2,906.1 295.7,921.3 336.2,936.5 376.8,951.7 417.3,966.9 457.8,982.1 498.3,997.3 538.8,1012.5 579.3,1027.7 619.8,1042.9 660.4,1058.1 700.9,1073.3 741.4,1088.5 781.9,1103.7 822.4,1118.9 862.9,1134.1 903.4,1149.3 944,1164.5 984.5,1179.7 1025,1194.9 1065.5,1210.1 1178.2,1165.7 1436.2,1039.9 1549.7,965 1810,625.3 1769.5,613.2 1729,601.5 1688.5,574.8 1647.9,567.1 1607.4,552.6 1566.9,539 1526.4,526.4 1485.9,520.4 1445.4,506.4 1404.8,487.2 1364.3,467.3 1323.8,459.6 1283.3,450.3 1242.8,436.3 1202.3,412.8 1161.8,396.5 1121.2,385.3 1080.7,382.3 1040.2,367.3 999.7,352.8 739.4,671.6 625.9,738.3 367.9,861.7" fill="#00f" fill-opacity="0.3" clip-path="url(#cnc)"/>
<path d="M255.2 902.8L367.9 858.1L625.9 734L739.4 664.5L999.7 342.5M295.7 918L408.4 873.2L666.4 748.5L779.9 678.1L1040.2 355.3M336.2 933.2L448.9 888.2L706.9 763L820.4 691.6L1080.7 348.4M376.8 948.4L489.5 903.2L747.4 777.5L860.9 705.2L1121.2 363.6M417.3 963.6L530 918.2L787.9 792L901.4 718.8L1161.8 372.9M457.8 978.8L570.5 933.3L828.4 806.5L941.9 732.3L1202.3 377.3M498.3 994L611 948.3L869 821L982.5 745.9L1242.8 378.6M538.8 1009.2L651.5 963.3L909.5 835.5L1023 759.4L1283.3 389.6M579.3 1024.4L692 978.3L950 850L1063.5 773L1323.8 394.6M619.8 1039.6L732.5 993.3L990.5 864.5L1104 786.5L1364.3 396.4M660.4 1054.8L773.1 1008.4L1031 879L1144.5 800.1L1404.8 399.4M700.9 1070L813.6 1023.4L1071.5 893.5L1185 813.6L1445.4 409.2M741.4 1085.2L854.1 1038.4L1112 907.9L1225.5 827.2L1485.9 418M781.9 1100.4L894.6 1053.4L1152.6 922.4L1266.1 840.7L1526.4 424.5M822.4 1115.6L935.1 1068.5L1193.1 936.9L1306.6 854.3L1566.9 429.1M862.9 1130.8L975.6 1083.5L1233.6 951.4L1347.1 867.8L1607.4 435.1M903.4 1146L1016.2 1098.5L1274.1 965.9L1387.6 881.4L1647.9 431.5M944 1161.2L1056.7 1113.5L1314.6 980.4L1428.1 894.9L1688.5 456.4M984.5 1176.4L1097.2 1128.6L1355.1 994.9L1468.6 908.5L1729 463.3M1025 1191.6L1137.7 1143.6L1395.7 1009.4L1509.2 922L1769.5 451.9M1065.5 1206.8L1178.2 1158.6L1436.2 1023.9L1549.7 935.6L1810 447.8M255.2 902.8L295.7 918L336.2 933.2L376.8 948.4L417.3 963.6L457.8 978.8L498.3 994L538.8 1009.2L579.3 1024.4L619.8 1039.6L660.4 1054.8L700.9 1070L741.4 1085.2L781.9 1100.4L822.4 1115.6L862.9 1130.8L903.4 1146L944 1161.2L984.5 1176.4L1025 1191.6L1065.5 1206.8M367.9 858.1L408.4 873.2L448.9 888.2L489.5 903.2L530 918.2L570.5 933.3L611 948.3L651.5 963.3L692 978.3L732.5 993.3L773.1 1008.4L813.6 1023.4L854.1 1038.4L894.6 1053.4L935.1 1068.5L975.6 1083.5L1016.2 1098.5L1056.7 1113.5L1097.2 1128.6L1137.7 1143.6L1178.2 1158.6M625.9 734L666.4 748.5L706.9 763L747.4 777.5L787.9 792L828.4 806.5L869 821L909.5 835.5L950 850L990.5 864.5L1031 879L1071.5 893.5L1112 907.9L1152.6 922.4L1193.1 936.9L1233.6 951.4L1274.1 965.9L1314.6 980.4L1355.1 994.9L1395.7 1009.4L1436.2 1023.9M739.4 664.5L779.9 678.1L820.4 691.6L860.9 705.2L901.4 718.8L941.9 732.3L982.5 745.9L1023 759.4L1063.5 773L1104 786.5L1144.5 800.1L1185 813.6L1225.5 827.2L1266.1 840.7L1306.6 854.3L1347.1 867.8L1387.6 881.4L1428.1 894.9L1468.6 908.5L1509.2 922L1549.7 935.6M999.7 342.5L1040.2 355.3L1080.7 348.4L1121.2 363.6L1161.8 372.9L1202.3 377.3L1242.8 378.6L1283.3 389.6L1323.8 394.6L1364.3 396.4L1404.8 399.4L1445.4 409.2L1485.9 418L1526.4 424.5L1566.9 429.1L1607.4 435.1L1647.9 431.5L1688.5 456.4L1729 463.3L1769.5 451.9L1810 447.8" fill="none" stroke="#000" stroke-width="3.1" stroke-linejoin="round"/>
<path d="M255.2 906.1L367.9 861.7L625.9 738.3L739.4 671.6L999.7 352.8M295.7 921.3L408.4 876.9L666.4 753.3L779.9 686.3L1040.2 367.3M336.2 936.5L448.9 892.1L706.9 768.4L820.4 700.9L1080.7 382.3M376.8 951.7L489.5 907.3L747.4 783.5L860.9 715.6L1121.2 385.3M417.3 966.9L530 922.5L787.9 798.6L901.4 730.3L1161.8 396.5M457.8 982.1L570.5 937.7L828.4 813.7L941.9 745L1202.3 412.8M498.3 997.3L611 952.9L869 828.8L982.5 759.6L1242.8 436.3M538.8 1012.5L651.5 968.1L909.5 843.8L1023 774.3L1283.3 450.3M579.3 1027.7L692 983.3L950 858.9L1063.5 789L1323.8 459.6M619.8 1042.9L732.5 998.5L990.5 874L1104 803.6L1364.3 467.3M660.4 1058.1L773.1 1013.7L1031 889.1L1144.5 818.3L1404.8 487.2M700.9 1073.3L813.6 1028.9L1071.5 904.2L1185 833L1445.4 506.4M741.4 1088.5L854.1 1044.1L1112 919.2L1225.5 847.6L1485.9 520.4M781.9 1103.7L894.6 1059.3L1152.6 934.3L1266.1 862.3L1526.4 526.4M822.4 1118.9L935.1 1074.5L1193.1 949.4L1306.6 877L1566.9 539M862.9 1134.1L975.6 1089.7L1233.6 964.5L1347.1 891.7L1607.4 552.6M903.4 1149.3L1016.2 1104.9L1274.1 979.6L1387.6 906.3L1647.9 567.1M944 1164.5L1056.7 1120.1L1314.6 994.7L1428.1 921L1688.5 574.8M984.5 1179.7L1097.2 1135.3L1355.1 1009.7L1468.6 935.7L1729 601.5M1025 1194.9L1137.7 1150.5L1395.7 1024.8L1509.2 950.3L1769.5 613.2M1065.5 1210.1L1178.2 1165.7L1436.2 1039.9L1549.7 965L1810 625.3M255.2 906.1L295.7 921.3L336.2 936.5L376.8 951.7L417.3 966.9L457.8 982.1L498.3 997.3L538.8 1012.5L579.3 1027.7L619.8 1042.9L660.4 1058.1L700.9 1073.3L741.4 1088.5L781.9 1103.7L822.4 1118.9L862.9 1134.1L903.4 1149.3L944 1164.5L984.5 1179.7L1025 1194.9L1065.5 1210.1M367.9 861.7L408.4 876.9L448.9 892.1L489.5 907.3L530 922.5L570.5 937.7L611 952.9L651.5 968.1L692 983.3L732.5 998.5L773.1 1013.7L813.6 1028.9L854.1 1044.1L894.6 1059.3L935.1 1074.5L975.6 1089.7L1016.2 1104.9L1056.7 1120.1L1097.2 1135.3L1137.7 1150.5L1178.2 1165.7M625.9 738.3L666.4 753.3L706.9 768.4L747.4 783.5L787.9 798.6L828.4 813.7L869 828.8L909.5 843.8L950 858.9L990.5 874L1031 889.1L1071.5 904.2L1112 919.2L1152.6 934.3L1193.1 949.4L1233.6 964.5L1274.1 979.6L1314.6 994.7L1355.1 1009.7L1395.7 1024.8L1436.2 1039.9M739.4 671.6L779.9 686.3L820.4 700.9L860.9 715.6L901.4 730.3L941.9 745L982.5 759.6L1023 774.3L1063.5 789L1104 803.6L1144.5 818.3L1185 833L1225.5 847.6L1266.1 862.3L1306.6 877L1347.1 891.7L1387.6 906.3L1428.1 921L1468.6 935.7L1509.2 950.3L1549.7 965M999.7 352.8L1040.2 367.3L1080.7 382.3L1121.2 385.3L1161.8 396.5L1202.3 412.8L1242.8 436.3L1283.3 450.3L1323.8 459.6L1364.3 467.3L1404.8 487.2L1445.4 506.4L1485.9 520.4L1526.4 526.4L1566.9 539L1607.4 552.6L1647.9 567.1L1688.5 574.8L1729 601.5L1769.5 613.2L1810 625.3" fill="none" stroke="#00f" stroke-width="3" stroke-linejoin="round"/>
<path d="M204.5 926.6L204.5 336.5M204.5 925L1013 1229.5L1814.5 930.5M204.5 925L195.5 919.5H184.5M204.5 807.3L195.5 801.8H184.5M1826.3 809.8h3.4M204.5 689.6L195.5 684.1H184.5M1826.3 692.1h3.4M204.5 571.9L195.5 566.4H184.5M1826.3 574.4h3.4M204.5 454.2L195.5 448.7H184.5M1826.3 456.7h3.4M204.5 336.5L195.5 331H184.5M1826.3 339h3.4M204.5 925L195.5 929.5H183.5M406.6 1001.1L397.6 1005.6H385.6M608.8 1077.2L599.8 1081.8H587.8M810.9 1153.4L801.9 1157.9H789.9M1013 1229.5L1004 1234H992M1066.7 1209.5L1075.7 1214H1084.7M1180.5 1167L1189.5 1171.5H1198.5M1441 1069.8L1450 1074.3H1459M1555.6 1027.1L1564.6 1031.6H1573.6M1814.5 930.5L1834.5 925.5" fill="none" stroke="#000" stroke-width="3.2"/>
<g class="t">
<text transform="translate(167,936.5) scale(1,1.08)" text-anchor="end">0</text>
<text transform="translate(167,818.8) scale(1,1.08)" text-anchor="end">5</text>
<text transform="translate(167,701.1) scale(1,1.08)" text-anchor="end">10</text>
<text transform="translate(167,583.4) scale(1,1.08)" text-anchor="end">15</text>
<text transform="translate(167,465.7) scale(1,1.08)" text-anchor="end">20</text>
<text transform="translate(167,348) scale(1,1.08)" text-anchor="end">25</text>
<text transform="translate(169,992) scale(1,1.08)" text-anchor="end">100</text>
<text transform="translate(372,1060.5) scale(1,1.08)" text-anchor="end">95</text>
<text transform="translate(575,1135.5) scale(1,1.08)" text-anchor="end">90</text>
<text transform="translate(778,1213) scale(1,1.08)" text-anchor="end">85</text>
<text transform="translate(984,1288) scale(1,1.08)" text-anchor="end">80</text>
<text transform="translate(1104,1270) scale(1,1.08)" textLength="128" lengthAdjust="spacing">1e+09</text>
<text transform="translate(1213,1227.5) scale(1,1.08)" textLength="128" lengthAdjust="spacing">5e+08</text>
<text transform="translate(1475.5,1132.5) scale(1,1.08)" textLength="128" lengthAdjust="spacing">1e+08</text>
<text transform="translate(1584,1090) scale(1,1.08)" textLength="128" lengthAdjust="spacing">5e+07</text>
<text transform="translate(1846.5,998) scale(1,1.08)" textLength="128" lengthAdjust="spacing">1e+07</text>
<text transform="translate(281,1303.5) scale(1,1.08)" textLength="332" lengthAdjust="spacing">Percentage (%)</text>
<text transform="translate(1314.5,1345) scale(1,1.08)" textLength="398" lengthAdjust="spacing">Sampling rate (Hz)</text>
<text transform="translate(78.5,636) rotate(-90) scale(1,1.08)" text-anchor="middle" textLength="97" lengthAdjust="spacing">MSE</text>
</g>
<text class="cap" x="983.7" y="1518.8" text-anchor="middle">(<tspan font-weight="bold">c</tspan>)</text>
<rect x="394" y="142" width="890" height="148.5" fill="#fff" stroke="#000" stroke-width="3.4"/>
<rect x="425" y="154" width="150" height="50" fill="#f00" stroke="#000" stroke-width="3.4"/>
<rect x="425" y="226" width="150" height="50" fill="#00f" stroke="#00f" stroke-width="3.4"/>
<g class="t">
<text transform="translate(590,209) scale(1,1.08)" textLength="665" lengthAdjust="spacing">Only line intersection algorithm</text>
<text transform="translate(590,277) scale(1,1.08)" textLength="452" lengthAdjust="spacing">Hybrid TOA algorithm</text>
</g>
</g>
</svg>
</body></html>
